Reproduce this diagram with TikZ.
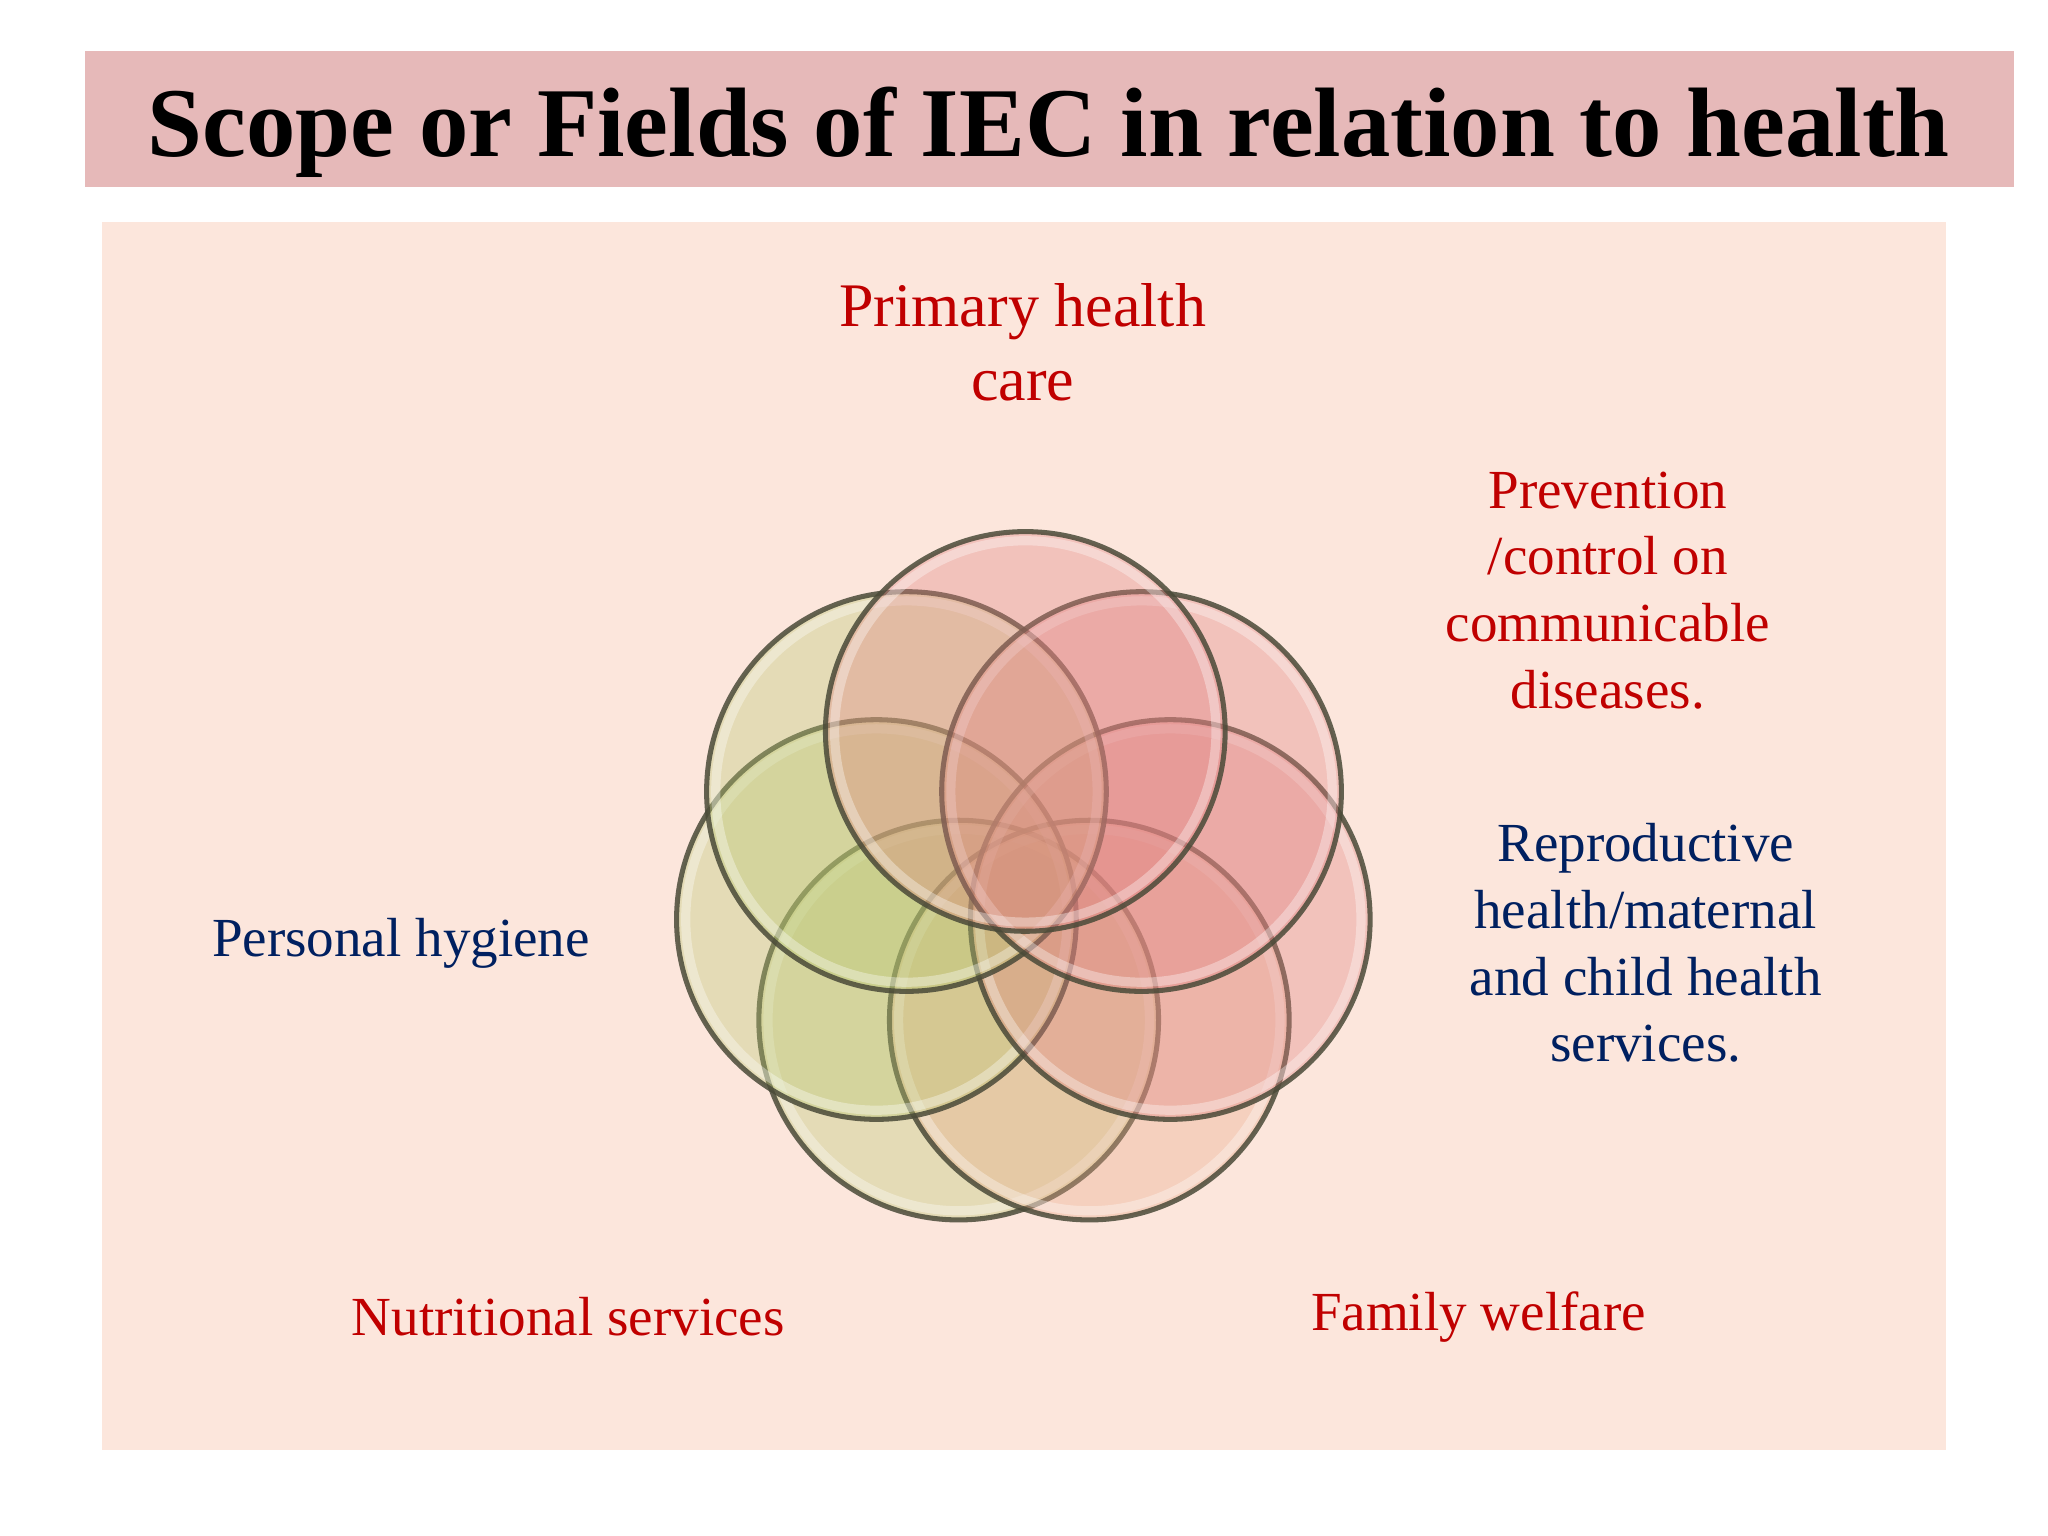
\documentclass[tikz,border=0pt]{standalone}
\usepackage{fontspec}
\setmainfont{Liberation Serif}
\definecolor{band}{HTML}{E6B9B9}
\definecolor{panel}{HTML}{FCE6DC}
\definecolor{rtext}{HTML}{C00000}
\definecolor{btext}{HTML}{002060}
\definecolor{cred}{HTML}{E08080}
\definecolor{cpeach}{HTML}{E8A888}
\definecolor{cgreen}{HTML}{B8C870}
\definecolor{cedge}{HTML}{4A4A38}
\begin{document}
\begin{tikzpicture}[x=0.1mm,y=-0.1mm,
  lab/.style={align=center,font=\fontsize{12}{14.5}\selectfont},
  ring/.style={draw=cedge,line width=1.1pt,fill opacity=0.3,draw opacity=0.85}]
\useasboundingbox (0,0) rectangle (1568,1176);
\fill[white] (0,0) rectangle (1568,1176);
\fill[band] (65,39) rectangle (1542,143);
\node (title) at (803,101) {\fontsize{21.5}{26}\selectfont\bfseries Scope or Fields of IEC in relation to health};
\fill[panel] (78,170) rectangle (1490,1110);
\foreach \x/\y/\c in {734/781/cgreen,834/781/cpeach,671/704/cgreen,896/704/cred,694/606/cgreen,874/606/cred,785/560/cred}{
  \fill[\c,opacity=0.35] (\x,\y) circle (153);
  \draw[white,opacity=0.35,line width=2pt] (\x,\y) circle (146);
  \draw[ring] (\x,\y) circle (153);
}
\node[lab,text=rtext,font=\fontsize{13.5}{16}\selectfont] (phc) at (783,262) {Primary health\\care};
\node[lab,text=rtext] (prev) at (1231,452) {Prevention\\/control on\\communicable\\diseases.};
\node[lab,text=btext] (repro) at (1260,722) {Reproductive\\health/maternal\\and child health\\services.};
\node[lab,text=btext] (hyg) at (307,722) {Personal hygiene};
\node[lab,text=rtext] (nut) at (435,1008) {Nutritional services};
\node[lab,text=rtext] (fam) at (1132,1008) {Family welfare};
\end{tikzpicture}
\end{document}
